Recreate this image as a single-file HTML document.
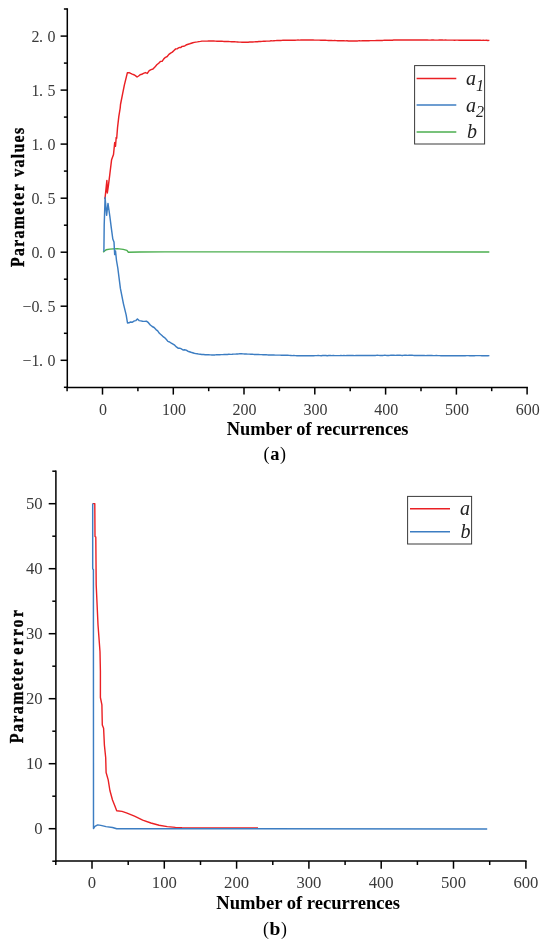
<!DOCTYPE html>
<html lang="en"><head><meta charset="utf-8"><title>Figure</title>
<style>html,body{margin:0;padding:0;background:#fff}svg{display:block}text{font-family:"Liberation Serif", serif}.tk{font-size:16px;fill:#3a3a3a}.tk2{font-size:16.7px;fill:#3a3a3a}.lb{font-weight:bold;fill:#000}.cap{font-size:20px;fill:#000}.lg{font-size:20px;font-style:italic;fill:#222}</style></head><body>
<svg width="550" height="945" viewBox="0 0 550 945">
<rect width="550" height="945" fill="#fff"/>
<g id="chart-a">
<line x1="67.3" y1="8.3" x2="67.3" y2="388.1" stroke="#000" stroke-width="1.5"/>
<line x1="66.5" y1="387.4" x2="527.9" y2="387.4" stroke="#000" stroke-width="1.5"/>
<line x1="63.9" y1="387.3" x2="67.3" y2="387.3" stroke="#000" stroke-width="1.5"/>
<line x1="60.6" y1="360.3" x2="67.3" y2="360.3" stroke="#000" stroke-width="1.5"/>
<line x1="63.9" y1="333.3" x2="67.3" y2="333.3" stroke="#000" stroke-width="1.5"/>
<line x1="60.6" y1="306.2" x2="67.3" y2="306.2" stroke="#000" stroke-width="1.5"/>
<line x1="63.9" y1="279.2" x2="67.3" y2="279.2" stroke="#000" stroke-width="1.5"/>
<line x1="60.6" y1="252.2" x2="67.3" y2="252.2" stroke="#000" stroke-width="1.5"/>
<line x1="63.9" y1="225.2" x2="67.3" y2="225.2" stroke="#000" stroke-width="1.5"/>
<line x1="60.6" y1="198.2" x2="67.3" y2="198.2" stroke="#000" stroke-width="1.5"/>
<line x1="63.9" y1="171.1" x2="67.3" y2="171.1" stroke="#000" stroke-width="1.5"/>
<line x1="60.6" y1="144.1" x2="67.3" y2="144.1" stroke="#000" stroke-width="1.5"/>
<line x1="63.9" y1="117.1" x2="67.3" y2="117.1" stroke="#000" stroke-width="1.5"/>
<line x1="60.6" y1="90.1" x2="67.3" y2="90.1" stroke="#000" stroke-width="1.5"/>
<line x1="63.9" y1="63.1" x2="67.3" y2="63.1" stroke="#000" stroke-width="1.5"/>
<line x1="60.6" y1="36.1" x2="67.3" y2="36.1" stroke="#000" stroke-width="1.5"/>
<line x1="63.9" y1="9" x2="67.3" y2="9" stroke="#000" stroke-width="1.5"/>
<line x1="67.1" y1="387.4" x2="67.1" y2="391.2" stroke="#000" stroke-width="1.5"/>
<line x1="102.5" y1="387.4" x2="102.5" y2="394.6" stroke="#000" stroke-width="1.5"/>
<line x1="137.9" y1="387.4" x2="137.9" y2="391.2" stroke="#000" stroke-width="1.5"/>
<line x1="173.3" y1="387.4" x2="173.3" y2="394.6" stroke="#000" stroke-width="1.5"/>
<line x1="208.7" y1="387.4" x2="208.7" y2="391.2" stroke="#000" stroke-width="1.5"/>
<line x1="244" y1="387.4" x2="244" y2="394.6" stroke="#000" stroke-width="1.5"/>
<line x1="279.4" y1="387.4" x2="279.4" y2="391.2" stroke="#000" stroke-width="1.5"/>
<line x1="314.8" y1="387.4" x2="314.8" y2="394.6" stroke="#000" stroke-width="1.5"/>
<line x1="350.2" y1="387.4" x2="350.2" y2="391.2" stroke="#000" stroke-width="1.5"/>
<line x1="385.6" y1="387.4" x2="385.6" y2="394.6" stroke="#000" stroke-width="1.5"/>
<line x1="421" y1="387.4" x2="421" y2="391.2" stroke="#000" stroke-width="1.5"/>
<line x1="456.4" y1="387.4" x2="456.4" y2="394.6" stroke="#000" stroke-width="1.5"/>
<line x1="491.7" y1="387.4" x2="491.7" y2="391.2" stroke="#000" stroke-width="1.5"/>
<line x1="527.1" y1="387.4" x2="527.1" y2="394.6" stroke="#000" stroke-width="1.5"/>
<text class="tk" x="31.6 39.1 47.6" y="42">2.0</text>
<text class="tk" x="31.6 39.1 47.6" y="96">1.5</text>
<text class="tk" x="31.6 39.1 47.6" y="150">1.0</text>
<text class="tk" x="31.6 39.1 47.6" y="204.1">0.5</text>
<text class="tk" x="31.6 39.1 47.6" y="258.1">0.0</text>
<text class="tk" x="22.6 31.6 39.1 47.6" y="312.1">−0.5</text>
<text class="tk" x="22.6 31.6 39.1 47.6" y="366.2">−1.0</text>
<text class="tk" text-anchor="middle" x="103.1" y="414.7">0</text>
<text class="tk" text-anchor="middle" x="173.9" y="414.7">100</text>
<text class="tk" text-anchor="middle" x="244.6" y="414.7">200</text>
<text class="tk" text-anchor="middle" x="315.4" y="414.7">300</text>
<text class="tk" text-anchor="middle" x="386.2" y="414.7">400</text>
<text class="tk" text-anchor="middle" x="457" y="414.7">500</text>
<text class="tk" text-anchor="middle" x="527.7" y="414.7">600</text>
<text class="lb" font-size="18.4" letter-spacing="1.55" stroke="#000" stroke-width="0.35" text-anchor="middle" transform="translate(24.3,196.8) rotate(-90) scale(0.86,1)">Parameter<tspan dx="1"> </tspan>values</text>
<text class="lb" font-size="18.4" text-anchor="middle" x="317.6" y="434.8">Number of recurrences</text>
<text class="cap" text-anchor="middle" x="274.8" y="460"><tspan font-size="18">(</tspan><tspan font-weight="bold" font-size="18.4" dx="0.6">a</tspan><tspan font-size="18" dx="0.6">)</tspan></text>
<polyline fill="none" stroke="#4bae4f" stroke-width="1.45" stroke-linejoin="round" stroke-linecap="butt" points="103.2,252.3 104.5,251 106.1,249.8 109.8,249.1 117.2,248.6 123.2,249.4 126.9,250.4 128.4,252.2 139.5,252 164.7,251.9 489.3,251.9"/>
<polyline fill="none" stroke="#ea2024" stroke-width="1.45" stroke-linejoin="round" stroke-linecap="butt" points="104.9,199 105.1,197.5 106.9,180.4 107.3,193 108.3,186.4 109.8,174.5 111.6,159.7 113.5,154.5 114.7,142.6 115.5,146.3 116.2,137.4 116.7,138.3 117.5,128 118.8,116.7 120.2,108 120.5,104.5 122.6,93.8 124.4,84.9 127.4,72.7 129.1,72.6 130.7,73.4 132.2,74.1 133.8,74.7 135.4,75.6 137.1,77 138.6,76 140.1,74.7 141.8,74.3 143.4,73.4 145.4,72.6 147.3,73.4 149.2,70.6 151.1,69.6 153,69 154.9,67.1 156.8,64.8 158.7,63.3 160.4,61.4 162.1,61.3 163.8,58.9 165.5,57.3 167.2,56.5 168.9,54.4 170.6,53.1 172.3,52.1 174,50.5 175.7,48.9 177.4,48.7 179.1,47.5 180.6,47.6 182.1,46.4 183.7,46.3 185.2,45.6 186.7,44.7 188.2,44.2 189.7,43.8 191.3,43.3 192.8,42.8 194.3,42.4 195.8,42.1 197.4,41.9 198.9,41.6 200.5,41.4 202,41.1 203.7,41.1 205.4,41.1 207.1,41.1 208.7,40.9 210.4,41 212.1,40.9 213.7,41 215.4,41.1 217,41.2 218.6,41.1 220.2,41.2 221.9,41.2 223.5,41.4 225.1,41.4 226.7,41.5 228.4,41.5 230,41.6 231.5,41.7 233,41.7 234.5,41.8 236,41.9 237.5,42 239,42.1 240.5,42.1 242,42.2 243.5,42.3 245,42.3 246.5,42.3 248.1,42.2 249.6,42 251.2,42 252.7,42 254.3,41.9 255.8,41.7 257.4,41.7 258.9,41.5 260.5,41.5 262,41.4 263.5,41.3 265,41.2 266.5,41.1 268,41.1 269.5,41.1 271,40.8 272.5,40.9 274,40.7 275.5,40.6 277,40.5 278.5,40.5 280,40.4 281.5,40.4 283,40.3 284.5,40.3 286,40.2 287.5,40.3 289,40.2 290.5,40.3 292,40.3 293.5,40.2 295,40.2 296.5,40.1 298,40 299.5,40.1 301,40 302.5,40 304,40 305.5,40 307,39.9 308.5,39.9 310,39.9 311.5,40 313.1,40 314.6,40.1 316.2,40.1 317.7,40.1 319.2,40.1 320.8,40.2 322.3,40.3 323.8,40.3 325.4,40.3 326.9,40.4 328.5,40.5 330,40.5 331.5,40.5 333.1,40.6 334.6,40.5 336.2,40.6 337.7,40.7 339.2,40.7 340.8,40.8 342.3,40.7 343.8,40.8 345.4,40.9 346.9,40.8 348.5,41 350,41 351.6,41 353.1,40.9 354.7,40.9 356.2,40.9 357.8,40.9 359.4,40.8 360.9,40.9 362.5,40.8 364.1,40.7 365.6,40.7 367.2,40.8 368.8,40.8 370.3,40.6 371.9,40.6 373.4,40.6 375,40.6 376.6,40.5 378.1,40.5 379.7,40.4 381.2,40.4 382.8,40.4 384.4,40.3 385.9,40.3 387.5,40.3 389.1,40.1 390.6,40.2 392.2,40.2 393.8,40 395.3,40 396.9,40 398.4,39.9 400,39.9 401.5,39.9 403,39.9 404.5,39.9 406.1,39.9 407.6,39.9 409.1,39.9 410.6,40 412.1,39.9 413.6,40 415.2,39.9 416.7,39.9 418.2,40 419.7,40 421.2,40 422.7,39.9 424.2,39.9 425.8,40 427.3,40 428.8,40.1 430.3,40.1 431.8,40 433.3,40 434.8,40.1 436.4,40.1 437.9,40.1 439.4,40 440.9,40 442.4,40 443.9,40.1 445.5,40 447,40.1 448.5,40.1 450,40.1 451.5,40.1 453,40.1 454.5,40.2 456.1,40.1 457.6,40.1 459.1,40.2 460.6,40.2 462.1,40.3 463.6,40.2 465.2,40.3 466.7,40.3 468.2,40.2 469.7,40.3 471.2,40.3 472.7,40.3 474.2,40.3 475.8,40.3 477.3,40.3 478.8,40.3 480.3,40.3 481.8,40.4 483.3,40.3 484.9,40.4 486.4,40.3 487.9,40.5 489.4,40.4"/>
<polyline fill="none" stroke="#3c7dc2" stroke-width="1.45" stroke-linejoin="round" stroke-linecap="butt" points="103.9,251.6 104.2,225 105.1,197.5 106.6,215.3 108,203.4 109.8,216 111.3,227.9 112.8,239 114,242 114.7,254.6 115.5,250.9 116.5,260.5 117.8,268 120.4,288.4 123.4,303.6 126.2,315.1 127.5,323 129,322.8 130.5,322 132.4,322.2 134.4,320.9 135.9,320.6 137.4,318.9 139.1,320.6 140.7,320.9 142.6,321.3 144.5,321.4 146.4,321.2 148.4,322.7 150.3,325 152.2,326.5 154.1,327.5 156,329.6 157.7,330.9 159.4,333.3 161.1,334.7 162.8,336.3 164.5,337.6 166.2,339.3 167.9,341.4 169.6,342 171.3,343.1 173,344.1 174.7,345.2 176.4,346.9 178.1,348.2 179.7,348.2 181.4,348.9 183,350 184.6,349.8 186.2,350.1 187.8,351.2 189.4,351.7 191,352.3 192.6,352.7 194.2,353.3 195.7,353.6 197.2,353.8 198.8,354.1 200.3,354.3 201.8,354.5 203.5,354.5 205.2,354.7 206.9,354.8 208.6,354.8 210.3,354.9 212,355 213.5,354.9 215.1,354.9 216.6,354.8 218.1,354.8 219.7,354.8 221.2,354.6 222.7,354.6 224.2,354.5 225.8,354.5 227.3,354.5 228.9,354.3 230.5,354.4 232.1,354.3 233.7,354.1 235.2,354.1 236.8,353.9 238.4,353.9 240,353.8 241.5,353.8 243.1,353.9 244.6,354 246.2,354 247.7,354.1 249.2,354.1 250.8,354.2 252.3,354.3 253.8,354.4 255.4,354.4 256.9,354.4 258.5,354.5 260,354.6 261.5,354.6 263.1,354.7 264.6,354.8 266.2,354.8 267.7,354.9 269.2,354.9 270.8,354.9 272.3,354.9 273.8,355 275.4,355.1 276.9,355.1 278.5,355.1 280,355.1 281.5,355.2 283.1,355.2 284.6,355.3 286.2,355.3 287.7,355.3 289.2,355.4 290.8,355.5 292.3,355.6 293.8,355.5 295.4,355.6 296.9,355.7 298.5,355.6 300,355.7 301.5,355.7 303,355.6 304.5,355.7 306.1,355.7 307.6,355.7 309.1,355.7 310.6,355.7 312.1,355.7 313.6,355.7 315.2,355.6 316.7,355.6 318.2,355.5 319.7,355.6 321.2,355.7 322.7,355.5 324.2,355.5 325.8,355.5 327.3,355.7 328.8,355.5 330.3,355.5 331.8,355.6 333.3,355.5 334.8,355.6 336.4,355.6 337.9,355.6 339.4,355.6 340.9,355.5 342.4,355.6 343.9,355.5 345.5,355.6 347,355.5 348.5,355.5 350,355.5 351.5,355.4 353,355.5 354.5,355.6 356.1,355.4 357.6,355.4 359.1,355.5 360.6,355.5 362.1,355.4 363.6,355.4 365.2,355.4 366.7,355.5 368.2,355.5 369.7,355.4 371.2,355.4 372.7,355.4 374.2,355.4 375.8,355.4 377.3,355.3 378.8,355.4 380.3,355.5 381.8,355.4 383.3,355.4 384.8,355.3 386.4,355.4 387.9,355.4 389.4,355.4 390.9,355.3 392.4,355.3 393.9,355.3 395.5,355.4 397,355.3 398.5,355.2 400,355.3 401.5,355.4 403,355.4 404.5,355.3 406.1,355.3 407.6,355.4 409.1,355.3 410.6,355.3 412.1,355.3 413.6,355.4 415.2,355.4 416.7,355.4 418.2,355.5 419.7,355.5 421.2,355.4 422.7,355.5 424.2,355.5 425.8,355.6 427.3,355.5 428.8,355.5 430.3,355.5 431.8,355.5 433.3,355.6 434.8,355.6 436.4,355.5 437.9,355.6 439.4,355.6 440.9,355.7 442.4,355.6 443.9,355.7 445.5,355.7 447,355.7 448.5,355.7 450,355.7 451.5,355.7 453,355.7 454.5,355.7 456.1,355.7 457.6,355.7 459.1,355.7 460.6,355.7 462.1,355.7 463.6,355.7 465.2,355.7 466.7,355.6 468.2,355.6 469.7,355.7 471.2,355.7 472.7,355.7 474.2,355.7 475.8,355.6 477.3,355.6 478.8,355.6 480.3,355.6 481.8,355.7 483.3,355.7 484.9,355.7 486.4,355.6 487.9,355.7 489.4,355.6"/>
<rect x="414.6" y="65.6" width="70" height="78.4" fill="#fff" stroke="#3a3a3a" stroke-width="1"/>
<line x1="416.6" y1="78.6" x2="456.3" y2="78.6" stroke="#ea2024" stroke-width="1.5"/>
<line x1="416.6" y1="105.1" x2="456.3" y2="105.1" stroke="#3c7dc2" stroke-width="1.5"/>
<line x1="416.6" y1="131.9" x2="456.3" y2="131.9" stroke="#4bae4f" stroke-width="1.5"/>
<text class="lg" x="466" y="85.2">a<tspan font-size="16" dy="5.5">1</tspan></text>
<text class="lg" x="466" y="111.7">a<tspan font-size="16" dy="5.5">2</tspan></text>
<text class="lg" x="467" y="137.5">b</text>
</g>
<g id="chart-b">
<line x1="55.9" y1="470.5" x2="55.9" y2="861.8" stroke="#000" stroke-width="1.5"/>
<line x1="55.1" y1="861" x2="526.6" y2="861" stroke="#000" stroke-width="1.5"/>
<line x1="52.3" y1="861.2" x2="55.9" y2="861.2" stroke="#000" stroke-width="1.5"/>
<line x1="48.7" y1="828.7" x2="55.9" y2="828.7" stroke="#000" stroke-width="1.5"/>
<line x1="52.3" y1="796.2" x2="55.9" y2="796.2" stroke="#000" stroke-width="1.5"/>
<line x1="48.7" y1="763.7" x2="55.9" y2="763.7" stroke="#000" stroke-width="1.5"/>
<line x1="52.3" y1="731.2" x2="55.9" y2="731.2" stroke="#000" stroke-width="1.5"/>
<line x1="48.7" y1="698.7" x2="55.9" y2="698.7" stroke="#000" stroke-width="1.5"/>
<line x1="52.3" y1="666.2" x2="55.9" y2="666.2" stroke="#000" stroke-width="1.5"/>
<line x1="48.7" y1="633.7" x2="55.9" y2="633.7" stroke="#000" stroke-width="1.5"/>
<line x1="52.3" y1="601.2" x2="55.9" y2="601.2" stroke="#000" stroke-width="1.5"/>
<line x1="48.7" y1="568.7" x2="55.9" y2="568.7" stroke="#000" stroke-width="1.5"/>
<line x1="52.3" y1="536.2" x2="55.9" y2="536.2" stroke="#000" stroke-width="1.5"/>
<line x1="48.7" y1="503.7" x2="55.9" y2="503.7" stroke="#000" stroke-width="1.5"/>
<line x1="52.3" y1="471.2" x2="55.9" y2="471.2" stroke="#000" stroke-width="1.5"/>
<line x1="55.8" y1="861" x2="55.8" y2="865" stroke="#000" stroke-width="1.5"/>
<line x1="92" y1="861" x2="92" y2="868.7" stroke="#000" stroke-width="1.5"/>
<line x1="128.2" y1="861" x2="128.2" y2="865" stroke="#000" stroke-width="1.5"/>
<line x1="164.3" y1="861" x2="164.3" y2="868.7" stroke="#000" stroke-width="1.5"/>
<line x1="200.5" y1="861" x2="200.5" y2="865" stroke="#000" stroke-width="1.5"/>
<line x1="236.6" y1="861" x2="236.6" y2="868.7" stroke="#000" stroke-width="1.5"/>
<line x1="272.8" y1="861" x2="272.8" y2="865" stroke="#000" stroke-width="1.5"/>
<line x1="308.9" y1="861" x2="308.9" y2="868.7" stroke="#000" stroke-width="1.5"/>
<line x1="345.1" y1="861" x2="345.1" y2="865" stroke="#000" stroke-width="1.5"/>
<line x1="381.2" y1="861" x2="381.2" y2="868.7" stroke="#000" stroke-width="1.5"/>
<line x1="417.4" y1="861" x2="417.4" y2="865" stroke="#000" stroke-width="1.5"/>
<line x1="453.5" y1="861" x2="453.5" y2="868.7" stroke="#000" stroke-width="1.5"/>
<line x1="489.7" y1="861" x2="489.7" y2="865" stroke="#000" stroke-width="1.5"/>
<line x1="525.9" y1="861" x2="525.9" y2="868.7" stroke="#000" stroke-width="1.5"/>
<text class="tk2" text-anchor="end" x="42.6" y="834.3">0</text>
<text class="tk2" text-anchor="end" x="42.6" y="769.3">10</text>
<text class="tk2" text-anchor="end" x="42.6" y="704.3">20</text>
<text class="tk2" text-anchor="end" x="42.6" y="639.3">30</text>
<text class="tk2" text-anchor="end" x="42.6" y="574.3">40</text>
<text class="tk2" text-anchor="end" x="42.6" y="509.3">50</text>
<text class="tk2" text-anchor="middle" x="92" y="888.3">0</text>
<text class="tk2" text-anchor="middle" x="164.3" y="888.3">100</text>
<text class="tk2" text-anchor="middle" x="236.6" y="888.3">200</text>
<text class="tk2" text-anchor="middle" x="308.9" y="888.3">300</text>
<text class="tk2" text-anchor="middle" x="381.2" y="888.3">400</text>
<text class="tk2" text-anchor="middle" x="453.5" y="888.3">500</text>
<text class="tk2" text-anchor="middle" x="525.9" y="888.3">600</text>
<text class="lb" font-size="18.6" letter-spacing="1.6" stroke="#000" stroke-width="0.35" text-anchor="middle" transform="translate(22.9,675.6) rotate(-90) scale(0.86,1)">Parameter<tspan dx="-2.5"> </tspan><tspan letter-spacing="2.5">error</tspan></text>
<text class="lb" font-size="18.6" text-anchor="middle" x="308.2" y="909.2">Number of recurrences</text>
<text class="cap" text-anchor="middle" x="275" y="935"><tspan font-size="17.8">(</tspan><tspan font-weight="bold" font-size="19.5" dx="0.6">b</tspan><tspan font-size="17.8" dx="0.6">)</tspan></text>
<polyline fill="none" stroke="#ea2024" stroke-width="1.4" stroke-linejoin="round" stroke-linecap="butt" points="92.7,503.6 94.8,503.6 95,536.4 95.8,537 96.2,585 98,624.7 100,651.8 100.4,671.1 100.4,697.5 101.9,704.9 102.3,725 103.6,728.2 104.4,745.1 105.7,757.8 106.1,772.5 108.2,779.9 109.9,790.5 112.5,800 114.6,805.3 116.7,810.8 122,811.4 126.4,812.9 134.5,816.2 142.7,820.1 150.9,823 159.1,825.2 167.3,826.6 175.4,827.4 182,827.8 258,827.9"/>
<polyline fill="none" stroke="#3c7dc2" stroke-width="1.45" stroke-linejoin="round" stroke-linecap="butt" points="92.7,503.6 92.7,568.9 93.4,569.5 93.5,828.6 94.9,826.4 97.7,824.9 100.8,825.4 106.1,826.6 112.5,827.5 116.7,828.8 487.2,828.9"/>
<rect x="407.6" y="496.4" width="64" height="47.6" fill="#fff" stroke="#3a3a3a" stroke-width="1"/>
<line x1="410" y1="508.8" x2="450" y2="508.8" stroke="#ea2024" stroke-width="1.5"/>
<line x1="410" y1="531.7" x2="450" y2="531.7" stroke="#3c7dc2" stroke-width="1.5"/>
<text class="lg" x="460" y="515.3">a</text>
<text class="lg" x="460.5" y="538.2">b</text>
</g>
</svg></body></html>
